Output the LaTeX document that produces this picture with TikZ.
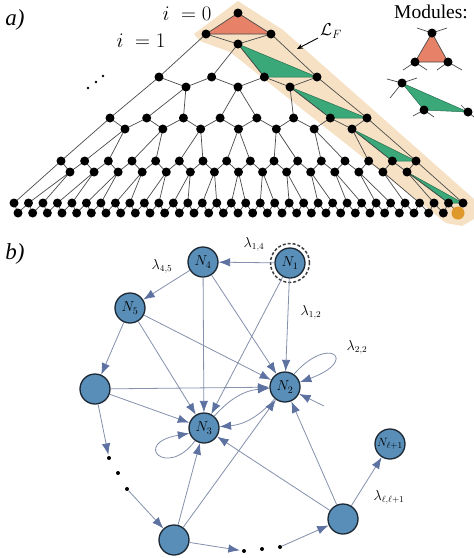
\documentclass[tikz,border=0pt]{standalone}
\usepackage{fontspec}
\setmainfont{Liberation Serif}
\usetikzlibrary{arrows.meta,calc}
\definecolor{salmon}{RGB}{231,129,104}
\definecolor{modgreen}{RGB}{58,168,120}
\definecolor{modgreenline}{RGB}{40,110,80}
\definecolor{beige}{RGB}{246,225,196}
\definecolor{orangen}{RGB}{222,152,44}
\definecolor{nodeblue}{RGB}{88,142,184}
\definecolor{nodeedge}{RGB}{28,40,52}
\definecolor{edgec}{RGB}{132,144,172}
\definecolor{tipc}{RGB}{94,114,162}
\definecolor{treeedge}{RGB}{75,75,75}
\tikzset{
  treeline/.style={draw=treeedge, line width=0.7pt},
  tdot/.style={circle, fill=black, inner sep=0pt, minimum size=9pt},
  ndot/.style={circle, fill=black, inner sep=0pt, minimum size=4pt},
  netnode/.style={circle, draw=nodeedge, line width=1.3pt, fill=nodeblue, minimum size=30pt, inner sep=0pt, font=\fontsize{14.5}{16}\selectfont},
  arr/.style={draw=edgec, line width=0.8pt, -{Latex[length=11.5pt,width=8.5pt,color=tipc]}},
  lam/.style={inner sep=1pt, font=\fontsize{13.5}{15}\selectfont},
  greenmod/.style={fill=modgreen, draw=modgreenline, line width=0.5pt},
  redmod/.style={fill=salmon, draw=treeedge, line width=0.7pt}
}
\begin{document}
\begin{tikzpicture}[x=1pt,y=1pt]
\useasboundingbox (0,0) rectangle (474,-558);
\fill[white] (0,0) rectangle (474,-558);
% ---------- tree coordinates ----------
\coordinate (u0) at (238,-13);
\foreach \i/\n/\uxa/\uxb/\uy/\lxa/\lxb/\ly in {1/2/206/271/34/238/238/44, 2/4/159/317/77/186/290/87, 3/8/110/367/118/125/352/129, 4/16/61/416/161/70/407/172, 5/32/14/463/203/18/458/213}{
  \foreach \k in {1,...,\n}{
    \coordinate (u\i-\k) at ({\uxa+(\k-1)*(\uxb-\uxa)/(\n-1)}, -\uy);
  }
  \pgfmathtruncatemacro{\m}{\n-1}
  \pgfmathsetmacro{\den}{max(\m-1,1)}
  \foreach \k in {1,...,\m}{
    \coordinate (l\i-\k) at ({\lxa+(\k-1)*(\lxb-\lxa)/\den}, -\ly);
  }
}
% ---------- highlighted band L_F ----------
\fill[beige] (194,-34) -- (238,-1) -- (283,-30) -- (474,-199) -- (474,-219) -- (462,-226) -- (446,-223) -- (230,-52) -- (200,-41) -- cycle;
% ---------- modules along the band ----------
\filldraw[redmod] (u0) -- (u1-1) -- (u1-2) -- cycle;
\foreach \i/\n in {1/2,2/4,3/8,4/16}{
  \pgfmathtruncatemacro{\m}{\n-1}
  \pgfmathtruncatemacro{\j}{\i+1}
  \pgfmathtruncatemacro{\nn}{2*\n}
  \pgfmathtruncatemacro{\nm}{2*\n-1}
  \filldraw[greenmod] (l\i-\m) -- (u\j-\nm) -- (u\j-\nn) -- cycle;
}
% ---------- tree edges ----------
\foreach \i/\n in {1/2,2/4,3/8,4/16,5/32}{
  \pgfmathtruncatemacro{\m}{\n-1}
  \foreach \k in {1,...,\m}{
    \pgfmathtruncatemacro{\kk}{\k+1}
    \draw[treeline] (u\i-\k) -- (l\i-\k) -- (u\i-\kk);
  }
}
\foreach \i/\n in {1/2,2/4,3/8,4/16}{
  \pgfmathtruncatemacro{\j}{\i+1}
  \pgfmathtruncatemacro{\nn}{2*\n}
  \pgfmathtruncatemacro{\m}{\n-1}
  \draw[treeline] (u\i-1) -- (u\j-1);
  \draw[treeline] (u\i-\n) -- (u\j-\nn);
  \foreach \k in {1,...,\m}{
    \pgfmathtruncatemacro{\ka}{2*\k}
    \pgfmathtruncatemacro{\kb}{2*\k+1}
    \draw[treeline] (u\j-\ka) -- (l\i-\k) -- (u\j-\kb);
  }
}
% ---------- tree nodes ----------
\node[tdot] (nu0) at (u0) {};
\foreach \i/\n in {1/2,2/4,3/8,4/16,5/32}{
  \pgfmathtruncatemacro{\m}{\n-1}
  \foreach \k in {1,...,\n}{ \node[tdot] (nu\i-\k) at (u\i-\k) {}; }
  \foreach \k in {1,...,\m}{ \node[tdot] (nl\i-\k) at (l\i-\k) {}; }
}
\node[circle, fill=orangen, inner sep=0pt, minimum size=13pt] (orange) at (l5-31) {};
% ---------- labels of part a ----------
\node (la) at (15,-20) {\fontsize{23}{25}\selectfont\itshape a)};
\node (i0) at (187,-14) {\fontsize{19.5}{21}\selectfont $i\;= 0$};
\node (i1) at (141,-41) {\fontsize{19.5}{21}\selectfont $i\;= 1$};
\node (modl) at (431,-12) {\fontsize{19.5}{21}\selectfont Modules:};
\node (lf) at (331,-31) {\fontsize{16.5}{18}\selectfont $\mathcal{L}_F$};
\coordinate (lfa) at (318,-38);
\coordinate (lfb) at (297,-49);
\draw[line width=0.9pt, -{Stealth[length=6pt,width=5pt]}] (lfa) -- (lfb);
\node[circle, fill=black, inner sep=0pt, minimum size=2.6pt] (e1) at (88,-88) {};
\node[circle, fill=black, inner sep=0pt, minimum size=2.6pt] (e2) at (96,-82) {};
\node[circle, fill=black, inner sep=0pt, minimum size=2.6pt] (e3) at (103,-76) {};
% ---------- legend modules ----------
\coordinate (ra) at (432,-33); \coordinate (rb) at (415,-62); \coordinate (rc) at (448,-62);
\coordinate (ra1) at (417,-28); \coordinate (ra2) at (447,-28);
\coordinate (rb1) at (403,-70); \coordinate (rb2) at (427,-70);
\coordinate (rc1) at (437,-70); \coordinate (rc2) at (462,-70);
\draw[treeline] (ra1) -- (ra) -- (ra2) (rb1) -- (rb) -- (rb2) (rc1) -- (rc) -- (rc2);
\filldraw[redmod] (ra) -- (rb) -- (rc) -- cycle;
\node[tdot] (mra) at (ra) {}; \node[tdot] (mrb) at (rb) {}; \node[tdot] (mrc) at (rc) {};
\coordinate (ga) at (402,-83); \coordinate (gb) at (424,-110); \coordinate (gc) at (468,-112);
\coordinate (ga1) at (387,-79); \coordinate (ga2) at (417,-78); \coordinate (ga3) at (390,-98);
\coordinate (gb1) at (413,-116); \coordinate (gb2) at (434,-117);
\coordinate (gc1) at (461,-105); \coordinate (gc2) at (474,-117);
\draw[treeline] (ga1) -- (ga) -- (ga2) (ga) -- (ga3) (gb1) -- (gb) -- (gb2) (gc1) -- (gc) -- (gc2);
\filldraw[greenmod] (ga) -- (gb) -- (gc) -- cycle;
\node[tdot] (mga) at (ga) {}; \node[tdot] (mgb) at (gb) {}; \node[tdot] (mgc) at (gc) {};
% ---------- part b ----------
\node (lb) at (15,-254) {\fontsize{23}{25}\selectfont\itshape b)};
\node[netnode] (N1) at (290,-263) {$N_1$};
\node[circle, draw=black!75, line width=1.5pt, dash pattern=on 3pt off 2pt, minimum size=39pt] (N1ring) at (N1) {};
\node[netnode] (N4) at (203,-262) {$N_4$};
\node[netnode] (N5) at (130,-308) {$N_5$};
\node[netnode] (NL) at (95,-389) {};
\node[netnode] (N2) at (285,-387) {$N_2$};
\node[netnode] (N3) at (204,-428) {$N_3$};
\node[netnode] (NB) at (174,-540) {};
\node[netnode] (NR) at (343,-519) {};
\node[netnode, font=\fontsize{12.5}{14}\selectfont] (NP) at (390,-444) {$N_{\ell+1}$};
\node[ndot] (dl1) at (109,-458) {};
\node[ndot] (dl2) at (118,-473) {};
\node[ndot] (dl3) at (127,-489) {};
\node[ndot] (db1) at (244,-551) {};
\node[ndot] (db2) at (262,-549) {};
\node[ndot] (db3) at (280,-547) {};
\coordinate (stub) at (324,-406);
\draw[arr] (N1) -- (N4);
\draw[arr] (N1) -- (N2);
\draw[arr] (N1) -- (N3);
\draw[arr] (N4) -- (N5);
\draw[arr] (N4) -- (N3);
\draw[arr] (N4) -- (N2);
\draw[arr] (N5) -- (NL);
\draw[arr] (N5) -- (N2);
\draw[arr] (N5) -- (N3);
\draw[arr] (NL) -- (N2);
\draw[arr] (NL) -- (N3);
\draw[arr] (N3) to[bend left=22] (N2);
\draw[arr] (N2) to[bend left=22] (N3);
\draw[arr] (N2.55) .. controls +(35,40) and +(60,22) .. (N2.18);
\draw[arr] (N3.235) .. controls +(-28,-38) and +(-58,-10) .. (N3.200);
\draw[arr, shorten >=1pt] (NL) -- (dl1);
\draw[arr] (dl3) -- (NB);
\draw[arr, shorten >=2pt] (NB) -- (db1);
\draw[arr] (db3) -- (NR);
\draw[arr] (NB) -- (N3);
\draw[arr] (NB) -- (N2);
\draw[arr] (NR) -- (N3);
\draw[arr] (NR) -- (N2);
\draw[arr] (NR) -- (NP);
\draw[arr] (stub) -- (N2);
\node[lam] (l14) at (254,-244) {$\lambda_{1,4}$};
\node[lam] (l45) at (162,-266) {$\lambda_{4,5}$};
\node[lam] (l12) at (311,-312) {$\lambda_{1,2}$};
\node[lam] (l22) at (357,-347) {$\lambda_{2,2}$};
\node[lam] (llp) at (389,-497) {$\lambda_{\ell,\ell+1}$};
\end{tikzpicture}
\end{document}
